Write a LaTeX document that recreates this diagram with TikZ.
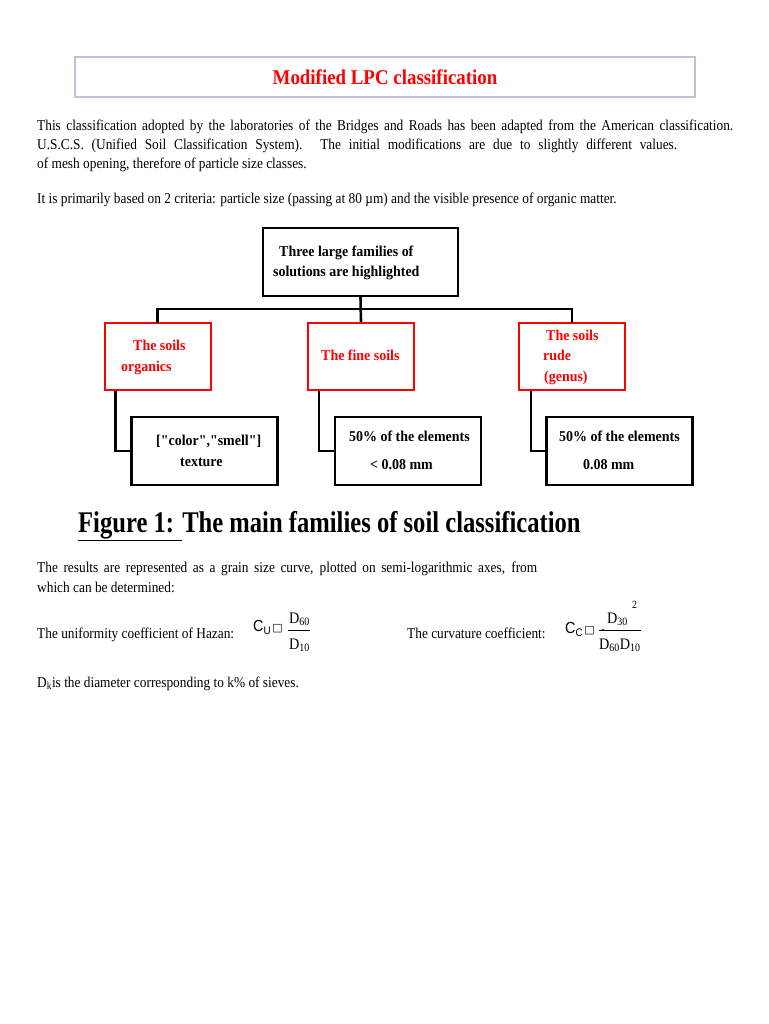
\documentclass[tikz,border=0pt]{standalone}
\usepackage{fontspec}
\usepackage{graphicx}
\setmainfont{Liberation Serif}[FakeStretch=0.89]
\newfontfamily\bcond{Liberation Serif}[FakeStretch=0.93]
\newfontfamily\tcond{Liberation Serif}[FakeStretch=0.90]
\newfontfamily\capcond{Liberation Serif}[FakeStretch=0.82]
\newfontfamily\sansf{Liberation Sans}[FakeStretch=0.9]
\newfontfamily\boxf{DejaVu Sans}
\definecolor{titleline}{HTML}{C0C0DA}
\definecolor{soilred}{HTML}{FF0000}
\begin{document}
\begin{tikzpicture}[x=1pt,y=-1pt,
  txt/.style={anchor=base west,inner sep=0pt,font=\fontsize{15}{17}\selectfont},
  btxt/.style={anchor=base west,inner sep=0pt,font=\bcond\fontsize{15}{17}\selectfont\bfseries},
  rtxt/.style={btxt,text=soilred},
  ftxt/.style={anchor=base west,inner sep=0pt,font=\fontsize{16}{18}\selectfont},
  topbox/.style={draw=black,line width=2.4pt,minimum width=195pt,minimum height=68pt,inner sep=0pt},
  redbox/.style={draw=soilred,line width=2pt,minimum width=106pt,minimum height=67pt,inner sep=0pt},
  blackbox/.style={draw=black,line width=2.4pt,minimum width=146pt,minimum height=68pt,inner sep=0pt},
  conn/.style={draw=black,line width=2.6pt},
]
\useasboundingbox (0,0) rectangle (768,1024);
\fill[white] (0,0) rectangle (768,1024);

% title
\node[draw=titleline,line width=1.3pt,minimum width=620pt,minimum height=40pt,inner sep=0pt,
      font=\tcond\fontsize{21}{23}\selectfont\bfseries,text=soilred] (title) at (385,77) {Modified LPC classification};

% paragraph
\node[txt] (p1) at (37,131) {\makebox[696pt][s]{This classification adopted by the laboratories of the Bridges and Roads has been adapted from the American classification.}};
\node[txt] (p2) at (37,150) {\makebox[640pt][s]{U.S.C.S. (Unified Soil Classification System). The initial modifications are due to slightly different values.}};
\node[txt] (p3) at (37,169) {of mesh opening, therefore of particle size classes.};
\node[txt] (p4) at (37,204) {It is primarily based on 2 criteria: particle size (passing at 80 \textmu m) and the visible presence of organic matter.};

% diagram boxes
\node[topbox] (top) at (360.5,262) {};
\node[btxt] (toptxt1) at (279,256) {Three large families of};
\node[btxt] (toptxt2) at (273,276) {solutions are highlighted};

\node[redbox] (r1) at (157.7,356.5) {};
\node[redbox] (r2) at (361,356.5) {};
\node[redbox] (r3) at (572,356.5) {};

\node[rtxt] (r1a) at (133,350) {The soils};
\node[rtxt] (r1b) at (121,371) {organics};
\node[rtxt] (r2a) at (321,360) {The fine soils};
\node[rtxt] (r3a) at (546,340) {The soils};
\node[rtxt] (r3b) at (543,360) {rude};
\node[rtxt] (r3c) at (544,381) {(genus)};

\node[blackbox] (b1) at (204.6,451) {};
\node[blackbox] (b2) at (407.7,451) {};
\node[blackbox] (b3) at (619.5,451) {};

\node[btxt] (b1a) at (156,445) {["color","smell"]};
\node[btxt] (b1b) at (180,466) {texture};
\node[btxt] (b2a) at (349,441) {50\% of the elements};
\node[btxt] (b2b) at (370,469) {< 0.08 mm};
\node[btxt] (b3a) at (559,441) {50\% of the elements};
\node[btxt] (b3b) at (583,469) {0.08 mm};

% connectors
\coordinate (bus) at (0,309);
\draw[conn] (top.south) -- (r2.north);
\draw[conn,line cap=rect] (r1.north) |- (bus -| r2.north) -| (r3.north);
\draw[conn] ([xshift=-42pt]r1.south) |- (b1.west);
\draw[conn] ([xshift=-42pt]r2.south) |- (b2.west);
\draw[conn] ([xshift=-41pt]r3.south) |- (b3.west);

% caption
\node[anchor=base west,inner sep=0pt,font=\capcond\fontsize{30}{33}\selectfont\bfseries] (cap) at (78,532)
  {\underline{Figure 1: }The main families of soil classification};

% lower text
\node[txt] (q1) at (37,572) {\makebox[500pt][s]{The results are represented as a grain size curve, plotted on semi-logarithmic axes, from}};
\node[txt] (q2) at (37,592) {which can be determined:};
\node[txt] (q3) at (37,638) {The uniformity coefficient of Hazan:};
\node[txt] (q4) at (407,638) {The curvature coefficient:};
\node[txt] (q5) at (37,687) {D\textsubscript{k}is the diameter corresponding to k\% of sieves.};

% formula CU
\node[anchor=base west,inner sep=0pt,font=\sansf\fontsize{16}{18}\selectfont] (cu) at (253,631) {C\raisebox{-3pt}{\fontsize{11}{12}\selectfont U}\hspace{1.5pt}{\boxf\fontsize{11}{12}\selectfont\char"25A1}};
\node[ftxt] (cun) at (289,623) {D\textsubscript{60}};
\node[ftxt] (cud) at (289,649) {D\textsubscript{10}};
\draw[line width=0.8pt] (288,630) -- (310,630);

% formula CC
\node[anchor=base west,inner sep=0pt,font=\sansf\fontsize{16}{18}\selectfont] (cc) at (565,633) {C\raisebox{-3pt}{\fontsize{11}{12}\selectfont C}\hspace{1.5pt}{\boxf\fontsize{11}{12}\selectfont\char"25A1}};
\node[txt] (ccdot) at (601,633) {$\cdot$};
\node[ftxt] (ccn) at (607,623) {D\textsubscript{30}};
\node[anchor=base west,inner sep=0pt,font=\fontsize{11}{12}\selectfont] (cc2) at (632,608) {2};
\node[ftxt] (ccd) at (599,649) {D\textsubscript{60}D\textsubscript{10}};
\draw[line width=0.8pt] (599,630) -- (641,630);
\end{tikzpicture}
\end{document}
